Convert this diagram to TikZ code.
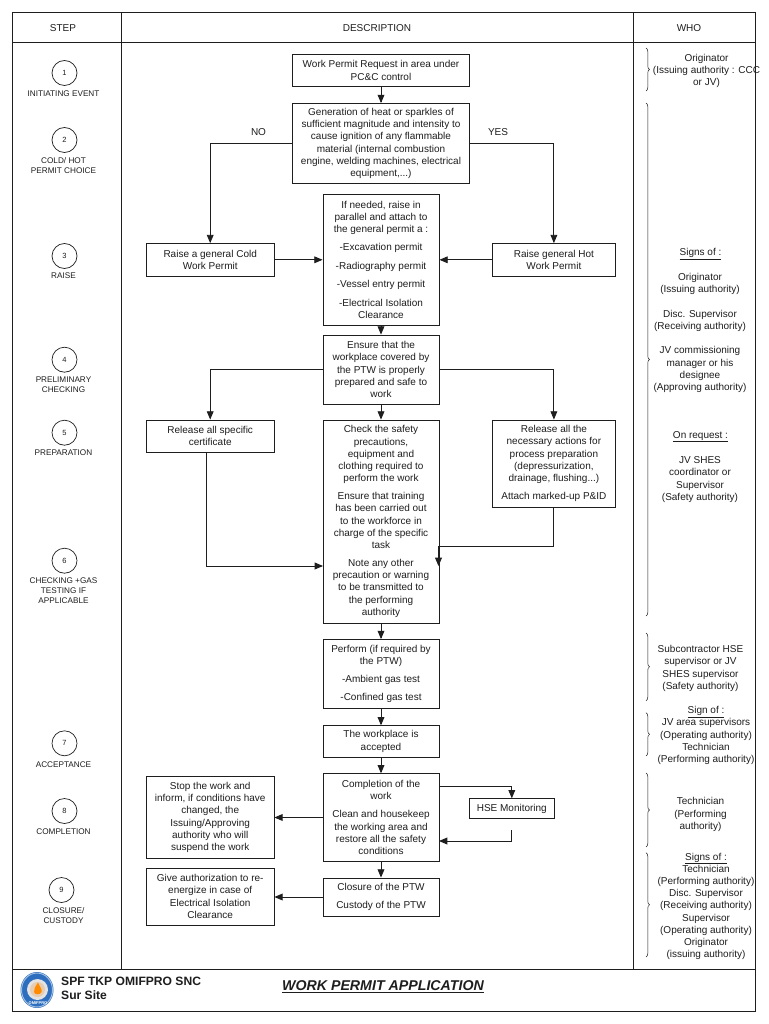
\documentclass[tikz,border=0pt]{standalone}
\usepackage{fontspec}
\setmainfont{Liberation Sans}
\usetikzlibrary{arrows}
\usetikzlibrary{decorations.pathreplacing}
\definecolor{wink}{RGB}{30,30,30}
\definecolor{wlogo}{RGB}{45,110,190}
\tikzset{
  wbox/.style={draw=wink,line width=0.9pt,inner sep=0pt,align=center,font=\fontsize{10}{12.2}\selectfont,text=wink},
  wtxt/.style={inner sep=0pt,align=center,font=\fontsize{10}{12.2}\selectfont,text=wink},
  wlab/.style={inner sep=0pt,align=center,font=\fontsize{8.2}{10}\selectfont,text=wink},
  wnum/.style={draw=wink,circle,line width=0.7pt,minimum size=25pt,inner sep=0pt,font=\fontsize{7.5}{8}\selectfont,text=wink},
  wlink/.style={draw=wink,line width=0.9pt,->},
  wbrace/.style={draw=wink,line width=0.5pt,decorate,decoration={brace,amplitude=3.5pt}}
}
\begin{document}
\begin{tikzpicture}[line cap=butt,line join=miter,>=triangle 45,x=1pt,y=-1pt]
\useasboundingbox (0,0) rectangle (768,1024);
\fill[white] (0,0) rectangle (768,1024);
% frame
\draw[wink,line width=0.9pt] (12.5,12.5) rectangle (755.5,1011);
\draw[wink,line width=0.9pt] (12.5,42) -- (755.5,42);
\draw[wink,line width=0.9pt] (12.5,969) -- (755.5,969);
\draw[wink,line width=0.9pt] (121.5,12.5) -- (121.5,969);
\draw[wink,line width=0.9pt] (633,12.5) -- (633,969);
\node[wtxt] (hstep) at (63,28) {STEP};
\node[wtxt] (hdesc) at (377,28) {DESCRIPTION};
\node[wtxt] (hwho) at (689,28) {WHO};
% steps
\node[wnum] (n1) at (64.5,73) {1};
\node[wnum] (n2) at (64.5,140) {2};
\node[wnum] (n3) at (64.5,256) {3};
\node[wnum] (n4) at (64.5,359.7) {4};
\node[wnum] (n5) at (64.5,432.7) {5};
\node[wnum] (n6) at (64.5,560.7) {6};
\node[wnum] (n7) at (64.5,743.3) {7};
\node[wnum] (n8) at (64.5,811) {8};
\node[wnum] (n9) at (61.5,890) {9};
\node[wlab] (l1) at (63.5,94) {INITIATING EVENT};
\node[wlab] (l2) at (63.5,165.5) {COLD/ HOT\\PERMIT CHOICE};
\node[wlab] (l3) at (63.5,276) {RAISE};
\node[wlab] (l4) at (63.5,385) {PRELIMINARY\\CHECKING};
\node[wlab] (l5) at (63.5,453) {PREPARATION};
\node[wlab] (l6) at (63.5,591) {CHECKING +GAS\\TESTING IF\\APPLICABLE};
\node[wlab] (l7) at (63.5,764.5) {ACCEPTANCE};
\node[wlab] (l8) at (63.5,832) {COMPLETION};
\node[wlab] (l9) at (63.5,915.3) {CLOSURE/\\CUSTODY};
% boxes
\node[wbox,minimum width=177pt,minimum height=32pt] (request) at (381,70.5) {Work Permit Request in area under\\PC\&C control};
\node[wbox,minimum width=177pt,minimum height=80pt] (heat) at (381,143.5) {Generation of heat or sparkles of\\sufficient magnitude and intensity to\\cause ignition of any flammable\\material (internal combustion\\engine, welding machines, electrical\\equipment,...)};
\node[wbox,minimum width=127.5pt,minimum height=32.5pt] (cold) at (210.2,259.8) {Raise a general Cold\\Work Permit};
\node[wbox,minimum width=122.5pt,minimum height=32.5pt] (hot) at (553.9,259.8) {Raise  general Hot\\Work Permit};
\node[wbox,minimum width=116pt,minimum height=130.5pt] (extra) at (381,259.8) {If needed, raise in\\parallel and attach to\\the general permit a :\\[6.3pt]-Excavation permit\\[6.3pt]-Radiography permit\\[6.3pt]-Vessel entry permit\\[6.3pt]-Electrical Isolation\\Clearance};
\node[wbox,minimum width=116pt,minimum height=69pt] (ensure) at (381,369.5) {Ensure that the\\workplace covered by\\the PTW is properly\\prepared and safe to\\work};
\node[wbox,minimum width=127.5pt,minimum height=32pt] (relcert) at (210.2,436) {Release all specific\\certificate};
\node[wbox,minimum width=116pt,minimum height=203pt] (check) at (381,521.5) {Check the safety\\precautions,\\equipment and\\clothing required to\\perform the work\\[5.8pt]Ensure that training\\has been carried out\\to the workforce in\\charge of the specific\\task\\[5.8pt]Note any other\\precaution or warning\\to be transmitted to\\the performing\\authority};
\node[wbox,minimum width=122.5pt,minimum height=87pt] (relact) at (553.9,463.5) {Release all the\\necessary actions for\\process preparation\\(depressurization,\\drainage, flushing...)\\[5.8pt]Attach marked-up P\&ID};
\node[wbox,minimum width=116pt,minimum height=69pt] (perform) at (381,674) {Perform (if required by\\the PTW)\\[6pt]-Ambient gas test\\[6pt]-Confined gas test};
\node[wbox,minimum width=116pt,minimum height=31.5pt] (accept) at (381,741.5) {The workplace is\\accepted};
\node[wbox,minimum width=116pt,minimum height=87.5pt] (complete) at (381,817.5) {Completion of the\\work\\[6pt]Clean and housekeep\\the working area and\\restore all the safety\\conditions};
\node[wbox,minimum width=127.5pt,minimum height=81.5pt] (stop) at (210.2,817.5) {Stop the work and\\inform, if conditions have\\changed, the\\Issuing/Approving\\authority who will\\suspend the work};
\node[wbox,minimum width=85.5pt,minimum height=19.5pt] (hse) at (511.8,808.5) {HSE Monitoring};
\node[wbox,minimum width=116pt,minimum height=38pt] (closure) at (381,897) {Closure of the PTW\\[6.5pt]Custody of the PTW};
\node[wbox,minimum width=127.5pt,minimum height=57pt] (give) at (210.2,896.5) {Give authorization to re-\\energize in case of\\Electrical Isolation\\Clearance};
\node[wtxt] (no) at (258.5,132) {NO};
\node[wtxt] (yes) at (498,132) {YES};
% connectors
\coordinate (nocorner) at (cold.north |- heat.west);
\coordinate (yescorner) at (hot.north |- heat.east);
\coordinate (leftcorner) at (relcert.north |- ensure.west);
\coordinate (rightcorner) at (relact.north |- ensure.east);
\coordinate (certdrop) at (206.5,452);
\coordinate (certturn) at (206.5,566);
\coordinate (certend) at (323,566);
\coordinate (actturn) at (553.9,546);
\coordinate (actside) at (438.5,546);
\coordinate (actend) at (438.5,566);
\coordinate (hseout) at (511.8,786);
\coordinate (hsefree) at (511.8,830);
\coordinate (hseback) at (511.8,841);
\coordinate (compout) at (439,786);
\coordinate (compin) at (439,841);
\draw[wlink] (request) -- (heat);
\draw[wlink] (heat.west) -- (nocorner) -- (cold.north);
\draw[wlink] (heat.east) -- (yescorner) -- (hot.north);
\draw[wlink] (cold.east) -- (cold.east -| extra.west);
\draw[wlink] (hot.west) -- (hot.west -| extra.east);
\draw[wlink] (extra) -- (ensure);
\draw[wlink] (ensure.west) -- (leftcorner) -- (relcert.north);
\draw[wlink] (ensure.east) -- (rightcorner) -- (relact.north);
\draw[wlink] (ensure) -- (check);
\draw[wlink] (certdrop) -- (certturn) -- (certend);
\draw[wlink] (relact.south) -- (actturn) -- (actside) -- (actend);
\draw[wlink] (check) -- (perform);
\draw[wlink] (perform) -- (accept);
\draw[wlink] (accept) -- (complete);
\draw[wlink] (complete) -- (closure);
\draw[wlink] (compout) -- (hseout) -- (hse.north);
\draw[wlink] (hsefree) -- (hseback) -- (compin);
\draw[wlink] (complete.west) -- (stop.east);
\draw[wlink] (closure.west) -- (closure.west -| give.east);
% who column
\draw[wbrace] (646,48) -- (646,91);
\draw[wbrace] (646,103) -- (646,616);
\draw[wbrace] (646,633) -- (646,700.7);
\draw[wbrace] (646,712.7) -- (646,756);
\draw[wbrace] (646,773) -- (646,847);
\draw[wbrace] (646,852.7) -- (646,957);
\node[wtxt] (w1) at (706.5,71) {Originator\\(Issuing authority : CCC\\or JV)};
\node[wtxt] (w2) at (700.5,254) {\underline{Signs of :}};
\node[wtxt] (w3) at (700,284) {Originator\\(Issuing authority)};
\node[wtxt] (w4) at (700,321) {Disc. Supervisor\\(Receiving authority)};
\node[wtxt] (w5) at (700,369.6) {JV commissioning\\manager or his\\designee\\(Approving authority)};
\node[wtxt] (w6) at (700.5,436.7) {\underline{On request :}};
\node[wtxt] (w7) at (700,479.5) {JV SHES\\coordinator or\\Supervisor\\(Safety authority)};
\node[wtxt] (w8) at (700.5,668.5) {Subcontractor HSE\\supervisor or JV\\SHES supervisor\\(Safety authority)};
\node[wtxt] (w9) at (706,735.5) {\underline{Sign of :}\\JV area supervisors\\(Operating authority)\\Technician\\(Performing authority)};
\node[wtxt] (w10) at (700.5,814.5) {Technician\\(Performing\\authority)};
\node[wtxt] (w11) at (706,906.3) {\underline{Signs of :}\\Technician\\(Performing authority)\\Disc. Supervisor\\(Receiving authority)\\Supervisor\\(Operating authority)\\Originator\\(issuing authority)};
% footer
\fill[wlogo] (37,990) ellipse (16.5 and 18);
\draw[white!55!wlogo,line width=1pt] (37,990) ellipse (15.5 and 17);
\fill[white!78!gray] (37.5,989.5) circle (10.5);
\fill[white!60!brown] (37.5,989.5) circle (7.5);
\fill[orange!90!yellow] (38,982.5) .. controls (35.5,986.5) and (33.5,989) .. (34,992) .. controls (34.5,995) and (40.5,995) .. (41.5,992) .. controls (42.5,989) and (39.5,986.5) .. (38,982.5);
\node[inner sep=0pt,font=\fontsize{4}{4}\bfseries\selectfont,text=white] (omifpro) at (38,1003) {OMIFPRO};
\node[inner sep=0pt,anchor=west,font=\fontsize{12.1}{14.3}\selectfont\bfseries,align=left,text=wink] (firm) at (61,988.5) {SPF TKP OMIFPRO SNC\\Sur Site};
\node[inner sep=0pt,font=\fontsize{14.2}{16}\selectfont\bfseries\itshape,text=wink] (title) at (383,987) {\underline{WORK PERMIT APPLICATION}};
\end{tikzpicture}
\end{document}
